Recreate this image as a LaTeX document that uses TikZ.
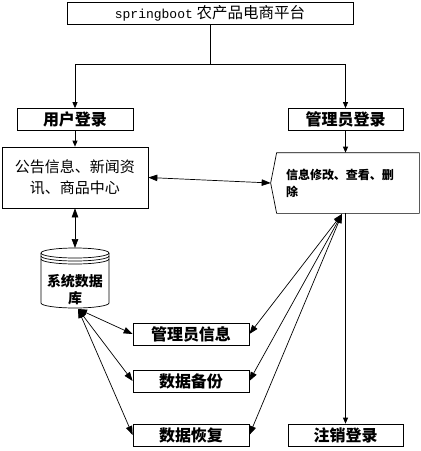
\documentclass[tikz,border=0pt]{standalone}
\usepackage{fontspec}
\setmainfont{Liberation Serif}
\newfontfamily\cjk{Noto Sans CJK SC}
\newfontfamily\mono{Liberation Mono}
\usetikzlibrary{arrows.meta,positioning}
\tikzstyle{box}=[draw,rectangle,minimum width=116pt,minimum height=22pt,inner sep=0pt,
  font=\cjk\bfseries\fontsize{16}{18}\selectfont]
\tikzstyle{small}=[-{Triangle[length=6pt,width=5pt]}]
\tikzstyle{big}=[{Triangle[length=9pt,width=6.5pt]}-{Triangle[length=9pt,width=6.5pt]}]

\begin{document}
\begin{tikzpicture}[x=1pt, y=-1pt, node distance=1cm, on grid, line width=0.7pt]
  \useasboundingbox (0,0) rectangle (421,451);

  \node[box, minimum width=286pt, font=\fontsize{15}{18}\selectfont] (title) at (210,13.5)
    {{\mono\fontsize{13}{18}\selectfont springboot} {\cjk\fontsize{15.5}{18}\selectfont 农产品电商平台}};

  \node[box] (user) at (75,119.5) {用户登录};
  \node[box, right=270.5pt of user, minimum width=115pt] (admin) {管理员登录};

  \draw (title.south) -- ++(0,39) coordinate (fork);
  \draw[small] (fork) -| (user.north);
  \draw[small] (fork) -| (admin.north);

  \node[draw, minimum width=146pt, minimum height=61pt, align=center,
    font=\cjk\fontsize{15}{21}\selectfont] (news) at (75,177.5) {公告信息、新闻资\\讯、商品中心};

  \node[align=left, text width=124pt, minimum height=60pt, inner xsep=9pt,
    font=\cjk\bfseries\fontsize{12}{17}\selectfont] (manage) at (348,183) {信息修改、查看、删\\除};
  \draw (manage.north west) -- (manage.north east) -- (manage.south east)
    -- (manage.south west) -- ([xshift=-6pt]manage.west) coordinate (manage-tip) -- cycle;

  \draw[small] (user.south) -- (news.north);
  \draw[small] (admin.south) -- (admin.south |- manage.north);
  \draw[big] (news.east) -- (manage-tip);

  % system database
  \draw (75,253) ellipse[x radius=34, y radius=5];
  \draw (41,256) arc[start angle=180, end angle=0, x radius=34, y radius=5];
  \draw (41,259) arc[start angle=180, end angle=0, x radius=34, y radius=5];
  \draw (41,253) -- (41,303) arc[start angle=180, end angle=0, x radius=34, y radius=5] -- (109,253);
  \node[align=center, font=\cjk\bfseries\fontsize{14}{17}\selectfont] (db) at (75,290) {系统数据\\库};
  \coordinate (db-top) at (75,248);
  \coordinate (db-foot) at (78,309);

  \draw[big] (news.south) -- (db-top);

  \node[box] (info) at (191,334) {管理员信息};
  \node[box, below=47pt of info] (backup) {数据备份};
  \node[box, below=54pt of backup] (restore) {数据恢复};
  \node[box, right=154.5pt of restore, minimum width=115pt] (logout) {注销登录};

  \coordinate (manage-foot) at (342,214);
  \foreach \n in {info,backup,restore}{
    \draw[big] (db-foot) -- (\n.west);
    \draw[big] (manage-foot) -- (\n.east);
  }
  \draw[small] (admin.south |- manage.south) -- (logout.north);
\end{tikzpicture}
\end{document}
